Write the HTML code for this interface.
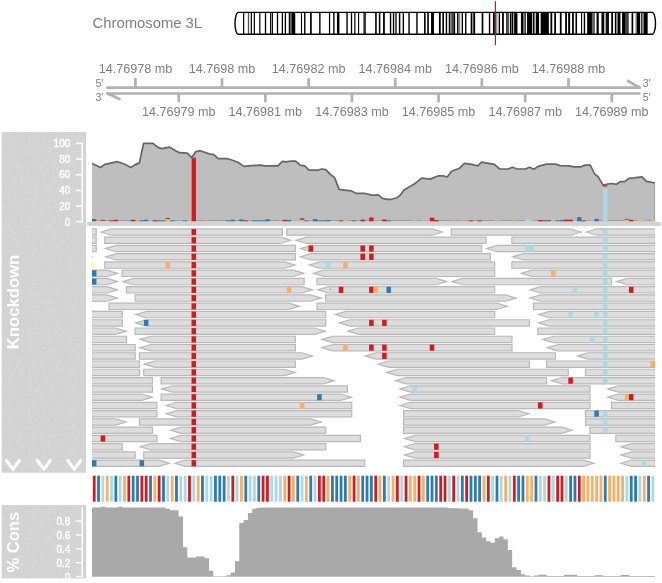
<!DOCTYPE html>
<html><head><meta charset="utf-8"><title>Gviz alignment view</title>
<style>
html,body{margin:0;padding:0;background:#fff;}
body{width:662px;height:583px;overflow:hidden;}
svg{display:block;filter:blur(0.3px);font-family:"Liberation Sans",Arial,Helvetica,sans-serif;}
</style></head>
<body>
<svg width="662" height="583" viewBox="0 0 662 583">
<rect width="662" height="583" fill="#fff"/>
<text x="92.6" y="28.3" font-size="14.6" fill="#808080" textLength="109.5" lengthAdjust="spacingAndGlyphs">Chromosome 3L</text>
<defs><clipPath id="ic"><path d="M238.3,12.4 L652.2,12.4 A3.3,10.95 0 0 1 652.2,34.3 L238.3,34.3 A3.3,10.95 0 0 1 238.3,12.4 Z"/></clipPath><clipPath id="dc"><rect x="92.03" y="0" width="563.03" height="583"/></clipPath></defs>
<path d="M238.3,12.4 L652.2,12.4 A3.3,10.95 0 0 1 652.2,34.3 L238.3,34.3 A3.3,10.95 0 0 1 238.3,12.4 Z" fill="#fff"/>
<g clip-path="url(#ic)">
<rect x="243.05" y="12.4" width="1.2" height="21.9" fill="#000"/>
<rect x="247.85" y="12.4" width="1.3" height="21.9" fill="#555"/>
<rect x="250.75" y="12.4" width="1.2" height="21.9" fill="#000"/>
<rect x="253.75" y="12.4" width="1.2" height="21.9" fill="#000"/>
<rect x="259.25" y="12.4" width="1.2" height="21.9" fill="#000"/>
<rect x="264.85" y="12.4" width="1.3" height="21.9" fill="#000"/>
<rect x="270.05" y="12.4" width="1.1" height="21.9" fill="#000"/>
<rect x="271.75" y="12.4" width="1.2" height="21.9" fill="#000"/>
<rect x="276.85" y="12.4" width="1.3" height="21.9" fill="#000"/>
<rect x="281.75" y="12.4" width="1.3" height="21.9" fill="#000"/>
<rect x="284.75" y="12.4" width="1.3" height="21.9" fill="#000"/>
<rect x="288.75" y="12.4" width="1.2" height="21.9" fill="#000"/>
<rect x="290.05" y="12.4" width="2.1" height="21.9" fill="#666"/>
<rect x="291.85" y="12.4" width="3.4" height="21.9" fill="#000"/>
<rect x="300.95" y="12.4" width="1.1" height="21.9" fill="#000"/>
<rect x="304.05" y="12.4" width="1.4" height="21.9" fill="#000"/>
<rect x="310.05" y="12.4" width="1.7" height="21.9" fill="#000"/>
<rect x="319.15" y="12.4" width="1.4" height="21.9" fill="#000"/>
<rect x="328.95" y="12.4" width="1.2" height="21.9" fill="#000"/>
<rect x="333.15" y="12.4" width="1.4" height="21.9" fill="#000"/>
<rect x="336.95" y="12.4" width="2.5" height="21.9" fill="#000"/>
<rect x="346.35" y="12.4" width="1.4" height="21.9" fill="#000"/>
<rect x="350.85" y="12.4" width="1.3" height="21.9" fill="#000"/>
<rect x="354.25" y="12.4" width="1.2" height="21.9" fill="#000"/>
<rect x="358.05" y="12.4" width="1.1" height="21.9" fill="#000"/>
<rect x="363.35" y="12.4" width="2.6" height="21.9" fill="#333"/>
<rect x="375.15" y="12.4" width="1.6" height="21.9" fill="#000"/>
<rect x="378.85" y="12.4" width="1.5" height="21.9" fill="#000"/>
<rect x="383.05" y="12.4" width="1.8" height="21.9" fill="#000"/>
<rect x="389.85" y="12.4" width="1.4" height="21.9" fill="#000"/>
<rect x="392.85" y="12.4" width="1.4" height="21.9" fill="#000"/>
<rect x="395.35" y="12.4" width="1.3" height="21.9" fill="#000"/>
<rect x="398.85" y="12.4" width="1.5" height="21.9" fill="#000"/>
<rect x="402.65" y="12.4" width="1.4" height="21.9" fill="#000"/>
<rect x="408.35" y="12.4" width="1.4" height="21.9" fill="#000"/>
<rect x="416.25" y="12.4" width="1.4" height="21.9" fill="#000"/>
<rect x="424.05" y="12.4" width="1.6" height="21.9" fill="#000"/>
<rect x="427.25" y="12.4" width="1.6" height="21.9" fill="#000"/>
<rect x="431.05" y="12.4" width="2.9" height="21.9" fill="#000"/>
<rect x="438.95" y="12.4" width="1.8" height="21.9" fill="#000"/>
<rect x="442.35" y="12.4" width="1.6" height="21.9" fill="#000"/>
<rect x="445.75" y="12.4" width="1.4" height="21.9" fill="#000"/>
<rect x="448.75" y="12.4" width="1.5" height="21.9" fill="#000"/>
<rect x="449.95" y="12.4" width="1.8" height="21.9" fill="#888"/>
<rect x="451.45" y="12.4" width="2.9" height="21.9" fill="#444"/>
<rect x="454.05" y="12.4" width="1.1" height="21.9" fill="#000"/>
<rect x="457.05" y="12.4" width="1.5" height="21.9" fill="#000"/>
<rect x="458.75" y="12.4" width="1.5" height="21.9" fill="#888"/>
<rect x="461.65" y="12.4" width="1.4" height="21.9" fill="#000"/>
<rect x="465.05" y="12.4" width="1.4" height="21.9" fill="#000"/>
<rect x="470.65" y="12.4" width="1.8" height="21.9" fill="#000"/>
<rect x="472.15" y="12.4" width="1.5" height="21.9" fill="#999"/>
<rect x="473.35" y="12.4" width="1.8" height="21.9" fill="#000"/>
<rect x="481.65" y="12.4" width="1.7" height="21.9" fill="#000"/>
<rect x="488.85" y="12.4" width="1.4" height="21.9" fill="#000"/>
<rect x="492.95" y="12.4" width="1.9" height="21.9" fill="#000"/>
<rect x="496.15" y="12.4" width="1.3" height="21.9" fill="#888"/>
<rect x="498.65" y="12.4" width="1.4" height="21.9" fill="#000"/>
<rect x="502.05" y="12.4" width="1.8" height="21.9" fill="#000"/>
<rect x="506.25" y="12.4" width="1.4" height="21.9" fill="#000"/>
<rect x="507.35" y="12.4" width="1.8" height="21.9" fill="#555"/>
<rect x="509.95" y="12.4" width="1.5" height="21.9" fill="#000"/>
<rect x="511.85" y="12.4" width="1.5" height="21.9" fill="#000"/>
<rect x="514.15" y="12.4" width="3.3" height="21.9" fill="#000"/>
<rect x="520.95" y="12.4" width="2.6" height="21.9" fill="#000"/>
<rect x="524.35" y="12.4" width="1.5" height="21.9" fill="#222"/>
<rect x="527.05" y="12.4" width="5.2" height="21.9" fill="#000"/>
<rect x="533.05" y="12.4" width="1.5" height="21.9" fill="#000"/>
<rect x="535.75" y="12.4" width="3.3" height="21.9" fill="#000"/>
<rect x="540.65" y="12.4" width="8.2" height="21.9" fill="#000"/>
<rect x="550.45" y="12.4" width="1.8" height="21.9" fill="#000"/>
<rect x="554.25" y="12.4" width="1.8" height="21.9" fill="#000"/>
<rect x="559.85" y="12.4" width="1.8" height="21.9" fill="#000"/>
<rect x="565.15" y="12.4" width="1.8" height="21.9" fill="#000"/>
<rect x="568.15" y="12.4" width="2" height="21.9" fill="#000"/>
<rect x="572.05" y="12.4" width="1.8" height="21.9" fill="#000"/>
<rect x="575.45" y="12.4" width="1.6" height="21.9" fill="#000"/>
<rect x="581.05" y="12.4" width="1.1" height="21.9" fill="#000"/>
<rect x="583.75" y="12.4" width="1.4" height="21.9" fill="#000"/>
<rect x="587.15" y="12.4" width="5" height="21.9" fill="#000"/>
<rect x="591.85" y="12.4" width="3.1" height="21.9" fill="#666"/>
<rect x="596.55" y="12.4" width="2.2" height="21.9" fill="#000"/>
<rect x="601.45" y="12.4" width="2.8" height="21.9" fill="#000"/>
<rect x="605.65" y="12.4" width="3.3" height="21.9" fill="#111"/>
<rect x="611.25" y="12.4" width="1.8" height="21.9" fill="#000"/>
<rect x="614.85" y="12.4" width="1.6" height="21.9" fill="#000"/>
<rect x="616.15" y="12.4" width="2" height="21.9" fill="#8a8a8a"/>
<rect x="617.85" y="12.4" width="2.6" height="21.9" fill="#000"/>
<rect x="622.05" y="12.4" width="3.7" height="21.9" fill="#000"/>
<rect x="625.45" y="12.4" width="3.3" height="21.9" fill="#444"/>
<rect x="631.55" y="12.4" width="1.7" height="21.9" fill="#000"/>
<rect x="635.45" y="12.4" width="1.9" height="21.9" fill="#888"/>
<rect x="636.85" y="12.4" width="3.3" height="21.9" fill="#000"/>
<rect x="640.95" y="12.4" width="1" height="21.9" fill="#000"/>
<rect x="641.65" y="12.4" width="2.5" height="21.9" fill="#888"/>
<rect x="643.85" y="12.4" width="3.8" height="21.9" fill="#000"/>
</g>
<path d="M238.3,12.4 L652.2,12.4 A3.3,10.95 0 0 1 652.2,34.3 L238.3,34.3 A3.3,10.95 0 0 1 238.3,12.4 Z" fill="none" stroke="#000" stroke-width="1.4"/>
<line x1="495.4" y1="1.3" x2="495.4" y2="45" stroke="#ff0000" stroke-width="1.2"/>
<g stroke="#b2b2b2" stroke-width="2.7" stroke-linecap="round" fill="none">
<line x1="107.5" y1="87.6" x2="639.5" y2="87.6"/>
<line x1="628" y1="81" x2="639.5" y2="87.6"/>
<line x1="107.5" y1="93.5" x2="639.5" y2="93.5"/>
<line x1="107.5" y1="93.5" x2="119.5" y2="99"/>
</g>
<g stroke="#b2b2b2" stroke-width="2.7">
<line x1="135.4" y1="78.2" x2="135.4" y2="87.6"/>
<line x1="178.71" y1="93.5" x2="178.71" y2="102.3"/>
<line x1="222.02" y1="78.2" x2="222.02" y2="87.6"/>
<line x1="265.33" y1="93.5" x2="265.33" y2="102.3"/>
<line x1="308.64" y1="78.2" x2="308.64" y2="87.6"/>
<line x1="351.95" y1="93.5" x2="351.95" y2="102.3"/>
<line x1="395.26" y1="78.2" x2="395.26" y2="87.6"/>
<line x1="438.57" y1="93.5" x2="438.57" y2="102.3"/>
<line x1="481.88" y1="78.2" x2="481.88" y2="87.6"/>
<line x1="525.19" y1="93.5" x2="525.19" y2="102.3"/>
<line x1="568.5" y1="78.2" x2="568.5" y2="87.6"/>
<line x1="611.81" y1="93.5" x2="611.81" y2="102.3"/>
</g>
<g font-size="12.6" fill="#808080" text-anchor="middle">
<text x="135.4" y="73.4">14.76978 mb</text>
<text x="178.71" y="116.1">14.76979 mb</text>
<text x="222.02" y="73.4">14.7698 mb</text>
<text x="265.33" y="116.1">14.76981 mb</text>
<text x="308.64" y="73.4">14.76982 mb</text>
<text x="351.95" y="116.1">14.76983 mb</text>
<text x="395.26" y="73.4">14.76984 mb</text>
<text x="438.57" y="116.1">14.76985 mb</text>
<text x="481.88" y="73.4">14.76986 mb</text>
<text x="525.19" y="116.1">14.76987 mb</text>
<text x="568.5" y="73.4">14.76988 mb</text>
<text x="611.81" y="116.1">14.76989 mb</text>
</g>
<g font-size="10.6" fill="#808080">
<text x="95.4" y="87.1">5'</text>
<text x="95.4" y="100.9">3'</text>
<text x="642.8" y="87.3">3'</text>
<text x="642.8" y="101.4">5'</text>
</g>
<defs><pattern id="tex" x="0" y="0" width="39" height="39" patternUnits="userSpaceOnUse"><rect width="39" height="39" fill="#d3d3d3"/><g fill="#dbdbdb"><rect x="0" y="1" width="1" height="1"/><rect x="8" y="0" width="1" height="1"/><rect x="9" y="2" width="1" height="1"/><rect x="12" y="1" width="1" height="1"/><rect x="15" y="0" width="1" height="1"/><rect x="23" y="0" width="1" height="1"/><rect x="35" y="1" width="1" height="1"/><rect x="36" y="0" width="1" height="1"/><rect x="1" y="3" width="1" height="1"/><rect x="5" y="4" width="1" height="1"/><rect x="14" y="5" width="1" height="1"/><rect x="15" y="5" width="1" height="1"/><rect x="29" y="4" width="1" height="1"/><rect x="34" y="4" width="1" height="1"/><rect x="36" y="5" width="1" height="1"/><rect x="1" y="8" width="1" height="1"/><rect x="4" y="8" width="1" height="1"/><rect x="8" y="6" width="1" height="1"/><rect x="10" y="6" width="1" height="1"/><rect x="16" y="7" width="1" height="1"/><rect x="20" y="6" width="1" height="1"/><rect x="32" y="7" width="1" height="1"/><rect x="39" y="7" width="1" height="1"/><rect x="2" y="9" width="1" height="1"/><rect x="5" y="10" width="1" height="1"/><rect x="16" y="11" width="1" height="1"/><rect x="19" y="10" width="1" height="1"/><rect x="21" y="10" width="1" height="1"/><rect x="25" y="9" width="1" height="1"/><rect x="31" y="9" width="1" height="1"/><rect x="34" y="11" width="1" height="1"/><rect x="36" y="10" width="1" height="1"/><rect x="1" y="13" width="1" height="1"/><rect x="6" y="12" width="1" height="1"/><rect x="9" y="12" width="1" height="1"/><rect x="17" y="12" width="1" height="1"/><rect x="18" y="12" width="1" height="1"/><rect x="22" y="14" width="1" height="1"/><rect x="35" y="14" width="1" height="1"/><rect x="41" y="14" width="1" height="1"/><rect x="1" y="16" width="1" height="1"/><rect x="5" y="16" width="1" height="1"/><rect x="6" y="15" width="1" height="1"/><rect x="9" y="16" width="1" height="1"/><rect x="17" y="15" width="1" height="1"/><rect x="19" y="17" width="1" height="1"/><rect x="21" y="17" width="1" height="1"/><rect x="26" y="16" width="1" height="1"/><rect x="33" y="16" width="1" height="1"/><rect x="40" y="16" width="1" height="1"/><rect x="0" y="20" width="1" height="1"/><rect x="4" y="19" width="1" height="1"/><rect x="9" y="18" width="1" height="1"/><rect x="15" y="20" width="1" height="1"/><rect x="18" y="20" width="1" height="1"/><rect x="23" y="18" width="1" height="1"/><rect x="28" y="18" width="1" height="1"/><rect x="30" y="20" width="1" height="1"/><rect x="35" y="19" width="1" height="1"/><rect x="6" y="22" width="1" height="1"/><rect x="14" y="22" width="1" height="1"/><rect x="15" y="21" width="1" height="1"/><rect x="21" y="23" width="1" height="1"/><rect x="29" y="22" width="1" height="1"/><rect x="33" y="21" width="1" height="1"/><rect x="36" y="22" width="1" height="1"/><rect x="41" y="23" width="1" height="1"/><rect x="5" y="25" width="1" height="1"/><rect x="11" y="24" width="1" height="1"/><rect x="21" y="25" width="1" height="1"/><rect x="29" y="25" width="1" height="1"/><rect x="32" y="24" width="1" height="1"/><rect x="36" y="24" width="1" height="1"/><rect x="40" y="26" width="1" height="1"/><rect x="2" y="28" width="1" height="1"/><rect x="8" y="29" width="1" height="1"/><rect x="9" y="29" width="1" height="1"/><rect x="15" y="28" width="1" height="1"/><rect x="21" y="27" width="1" height="1"/><rect x="25" y="29" width="1" height="1"/><rect x="29" y="28" width="1" height="1"/><rect x="31" y="27" width="1" height="1"/><rect x="35" y="28" width="1" height="1"/><rect x="5" y="30" width="1" height="1"/><rect x="8" y="32" width="1" height="1"/><rect x="10" y="30" width="1" height="1"/><rect x="18" y="31" width="1" height="1"/><rect x="24" y="31" width="1" height="1"/><rect x="31" y="30" width="1" height="1"/><rect x="36" y="31" width="1" height="1"/><rect x="39" y="32" width="1" height="1"/><rect x="0" y="33" width="1" height="1"/><rect x="5" y="35" width="1" height="1"/><rect x="10" y="34" width="1" height="1"/><rect x="13" y="35" width="1" height="1"/><rect x="29" y="33" width="1" height="1"/><rect x="33" y="34" width="1" height="1"/><rect x="36" y="35" width="1" height="1"/><rect x="39" y="33" width="1" height="1"/><rect x="11" y="38" width="1" height="1"/><rect x="15" y="37" width="1" height="1"/><rect x="18" y="37" width="1" height="1"/><rect x="26" y="36" width="1" height="1"/><rect x="28" y="38" width="1" height="1"/><rect x="31" y="36" width="1" height="1"/><rect x="33" y="38" width="1" height="1"/><rect x="37" y="38" width="1" height="1"/><rect x="41" y="36" width="1" height="1"/><rect x="2" y="41" width="1" height="1"/><rect x="3" y="39" width="1" height="1"/><rect x="16" y="40" width="1" height="1"/><rect x="18" y="40" width="1" height="1"/><rect x="38" y="41" width="1" height="1"/></g></pattern></defs>
<rect x="1.7" y="132" width="84.3" height="340.7" fill="url(#tex)"/>
<rect x="1.7" y="505" width="84.3" height="73.6" fill="url(#tex)"/>
<g stroke="#fff" stroke-width="1.6" fill="none">
<line x1="82.3" y1="142.6" x2="82.3" y2="222.5"/>
<line x1="76" y1="221.7" x2="82.3" y2="221.7"/>
<line x1="76" y1="206.04" x2="82.3" y2="206.04"/>
<line x1="76" y1="190.38" x2="82.3" y2="190.38"/>
<line x1="76" y1="174.72" x2="82.3" y2="174.72"/>
<line x1="76" y1="159.06" x2="82.3" y2="159.06"/>
<line x1="76" y1="143.4" x2="82.3" y2="143.4"/>
</g>
<g font-size="10" fill="#fff" stroke="#fff" stroke-width="0.45" text-anchor="end">
<text x="70.3" y="226.4">0</text>
<text x="70.3" y="209.64">20</text>
<text x="70.3" y="193.98">40</text>
<text x="70.3" y="178.32">60</text>
<text x="70.3" y="162.66">80</text>
<text x="70.3" y="147">100</text>
</g>
<g stroke="#fff" stroke-width="1.4" fill="none">
<line x1="82.2" y1="507.1" x2="82.2" y2="577.2"/>
<line x1="76" y1="576.5" x2="82.2" y2="576.5"/>
<line x1="76" y1="562.65" x2="82.2" y2="562.65"/>
<line x1="76" y1="548.8" x2="82.2" y2="548.8"/>
<line x1="76" y1="534.95" x2="82.2" y2="534.95"/>
<line x1="76" y1="521.1" x2="82.2" y2="521.1"/>
</g>
<g font-size="10" fill="#fff" stroke="#fff" stroke-width="0.45" text-anchor="end">
<text x="70.4" y="580.6">0</text>
<text x="70.4" y="566.75">0.2</text>
<text x="70.4" y="552.9">0.4</text>
<text x="70.4" y="539.05">0.6</text>
<text x="70.4" y="525.2">0.8</text>
</g>
<rect x="0" y="578.6" width="90" height="5" fill="#fff"/>
<text transform="translate(19.4,302) rotate(-90)" font-size="16.7" font-weight="bold" fill="#fff" text-anchor="middle">Knockdown</text>
<text transform="translate(18.7,542.2) rotate(-90)" font-size="16.5" font-weight="bold" fill="#fff" text-anchor="middle">% Cons</text>
<g stroke="#fff" stroke-width="3.1" fill="none" stroke-linejoin="round" stroke-linecap="round">
<polyline points="6.4,460.5 12.9,469.4 19.4,460.5"/>
<polyline points="37.35,460.5 43.85,469.4 50.35,460.5"/>
<polyline points="67.7,460.5 74.2,469.4 80.7,460.5"/>
</g>
<g clip-path="url(#dc)">
<clipPath id="cc"><rect x="92.03" y="100" width="563.03" height="121.3"/></clipPath>
<path d="M89.03,163.4 L92.1,163.4 L100.4,167.5 L104.9,164.4 L117.5,161.7 L124.3,164 L131,167.5 L134.8,164.9 L139.4,162.9 L143.6,143.3 L153,143.3 L157.5,147.1 L161.6,148.6 L169.6,147.1 L175.6,150.8 L179.4,152.7 L187.3,153.1 L191.8,157.6 L195.9,151.6 L200.1,150.8 L209.2,153.9 L213.7,154.6 L218.2,158.7 L226.5,158.7 L230.3,159.5 L237.9,162.2 L243.9,166.4 L251.5,165.6 L260.5,165.2 L265.1,165.9 L277.9,165.9 L282.4,161.4 L286.5,161.9 L291.1,161 L295.6,161.1 L300.1,165.2 L304.7,165.9 L308.9,170.2 L317.5,170.2 L321.6,169 L325.8,169.7 L330.3,174.3 L334.6,177.6 L339.1,189.4 L347,190.3 L351.5,190.9 L356,193.3 L364.3,193.3 L372.6,195.4 L377.9,194.6 L382.5,198.4 L387.1,199.3 L391.6,199.3 L396.9,197.7 L399.9,195.4 L404,190.1 L414.3,184.1 L421.5,178.2 L430.1,179.1 L438.4,175.8 L443,175.8 L447.2,177 L451.7,171.2 L459.6,168.2 L464.4,163.4 L471.7,164.4 L477.8,165.9 L481.6,162.2 L494.4,164.4 L499.7,169 L508,169 L512.5,167.2 L517,169 L525.4,169 L529.6,167.2 L533.7,169.3 L538.2,166.4 L546.5,164.1 L555.6,164.1 L560.1,165.6 L568.9,165.8 L574,166.8 L580.9,166.8 L585.2,165.1 L590.3,165.1 L594.6,174 L598,176.6 L603.2,185.2 L607.5,184 L611.7,183.5 L616.5,184.3 L620.3,181.7 L624.6,181.7 L628.9,178.3 L634,177.8 L641.9,176.8 L646.6,181.4 L654.6,183 L658.06,183 L658.06,224.3 L89.03,224.3 Z" fill="#bebebe" stroke="#666" stroke-width="1.7" stroke-linejoin="round" clip-path="url(#cc)"/>
<line x1="92.03" y1="220.8" x2="655.06" y2="220.8" stroke="#8f8f8f" stroke-width="1"/>
<line x1="654.61" y1="183" x2="654.61" y2="221.3" stroke="#9a9a9a" stroke-width="0.9"/>
<rect x="92.03" y="219" width="4.33" height="2.3" fill="#2c7bb6"/>
<rect x="96.36" y="220.5" width="4.33" height="0.8" fill="#fdae61"/>
<rect x="100.69" y="220.7" width="4.33" height="0.6" fill="#fdae61"/>
<rect x="100.69" y="219.8" width="4.33" height="0.9" fill="#d7191c"/>
<rect x="109.35" y="220.5" width="4.33" height="0.8" fill="#d7191c"/>
<rect x="113.69" y="219.8" width="4.33" height="1.5" fill="#d7191c"/>
<rect x="131.01" y="219.8" width="4.33" height="1.5" fill="#d7191c"/>
<rect x="135.34" y="220.4" width="4.33" height="0.9" fill="#fdae61"/>
<rect x="139.67" y="220.4" width="4.33" height="0.9" fill="#2c7bb6"/>
<rect x="144" y="219.7" width="4.33" height="1.6" fill="#2c7bb6"/>
<rect x="148.33" y="220.5" width="4.33" height="0.8" fill="#abd9e9"/>
<rect x="152.66" y="220.3" width="4.33" height="1" fill="#d7191c"/>
<rect x="157" y="220.5" width="4.33" height="0.8" fill="#2c7bb6"/>
<rect x="161.33" y="220.5" width="4.33" height="0.8" fill="#2c7bb6"/>
<rect x="165.66" y="219" width="4.33" height="2.3" fill="#fdae61"/>
<rect x="165.66" y="218" width="4.33" height="1" fill="#d7191c"/>
<rect x="169.99" y="220.5" width="4.33" height="0.8" fill="#2c7bb6"/>
<rect x="182.98" y="220.5" width="4.33" height="0.8" fill="#2c7bb6"/>
<rect x="187.31" y="220.5" width="4.33" height="0.8" fill="#abd9e9"/>
<rect x="204.64" y="220.5" width="4.33" height="0.8" fill="#fdae61"/>
<rect x="226.29" y="220.5" width="4.33" height="0.8" fill="#2c7bb6"/>
<rect x="230.62" y="219.7" width="4.33" height="1.6" fill="#2c7bb6"/>
<rect x="239.28" y="219.3" width="4.33" height="2" fill="#2c7bb6"/>
<rect x="243.62" y="220.5" width="4.33" height="0.8" fill="#d7191c"/>
<rect x="252.28" y="220.5" width="4.33" height="0.8" fill="#2c7bb6"/>
<rect x="256.61" y="220.5" width="4.33" height="0.8" fill="#2c7bb6"/>
<rect x="260.94" y="220.5" width="4.33" height="0.8" fill="#2c7bb6"/>
<rect x="265.27" y="219.3" width="4.33" height="2" fill="#2c7bb6"/>
<rect x="278.26" y="220.5" width="4.33" height="0.8" fill="#fdae61"/>
<rect x="282.59" y="219.9" width="4.33" height="1.4" fill="#d7191c"/>
<rect x="286.93" y="219.9" width="4.33" height="1.4" fill="#2c7bb6"/>
<rect x="291.26" y="220.5" width="4.33" height="0.8" fill="#abd9e9"/>
<rect x="295.59" y="220.5" width="4.33" height="0.8" fill="#abd9e9"/>
<rect x="299.92" y="220" width="4.33" height="1.3" fill="#fdae61"/>
<rect x="299.92" y="219.2" width="4.33" height="0.8" fill="#d7191c"/>
<rect x="299.92" y="218.2" width="4.33" height="1" fill="#2c7bb6"/>
<rect x="304.25" y="220.5" width="4.33" height="0.8" fill="#2c7bb6"/>
<rect x="308.58" y="220.5" width="4.33" height="0.8" fill="#fdae61"/>
<rect x="312.91" y="219" width="4.33" height="2.3" fill="#2c7bb6"/>
<rect x="317.24" y="220.5" width="4.33" height="0.8" fill="#2c7bb6"/>
<rect x="321.57" y="220.5" width="4.33" height="0.8" fill="#2c7bb6"/>
<rect x="325.9" y="220" width="4.33" height="1.3" fill="#2c7bb6"/>
<rect x="338.9" y="220.5" width="4.33" height="0.8" fill="#d7191c"/>
<rect x="343.23" y="219.9" width="4.33" height="1.4" fill="#fdae61"/>
<rect x="351.89" y="220.5" width="4.33" height="0.8" fill="#2c7bb6"/>
<rect x="360.55" y="219.7" width="4.33" height="1.6" fill="#d7191c"/>
<rect x="369.21" y="217.5" width="4.33" height="3.8" fill="#d7191c"/>
<rect x="373.55" y="220.5" width="4.33" height="0.8" fill="#fdae61"/>
<rect x="382.21" y="219.5" width="4.33" height="1.8" fill="#d7191c"/>
<rect x="386.54" y="220.5" width="4.33" height="0.8" fill="#2c7bb6"/>
<rect x="412.52" y="220.5" width="4.33" height="0.8" fill="#abd9e9"/>
<rect x="421.19" y="220.5" width="4.33" height="0.8" fill="#abd9e9"/>
<rect x="425.52" y="220.5" width="4.33" height="0.8" fill="#fdae61"/>
<rect x="429.85" y="217.7" width="4.33" height="3.6" fill="#d7191c"/>
<rect x="434.18" y="220" width="4.33" height="1.3" fill="#d7191c"/>
<rect x="451.5" y="220.5" width="4.33" height="0.8" fill="#fdae61"/>
<rect x="460.17" y="220.5" width="4.33" height="0.8" fill="#fdae61"/>
<rect x="464.5" y="220.5" width="4.33" height="0.8" fill="#fdae61"/>
<rect x="468.83" y="220.5" width="4.33" height="0.8" fill="#d7191c"/>
<rect x="477.49" y="220.5" width="4.33" height="0.8" fill="#d7191c"/>
<rect x="494.81" y="219.8" width="4.33" height="1.5" fill="#fdae61"/>
<rect x="512.14" y="220.5" width="4.33" height="0.8" fill="#fdae61"/>
<rect x="525.13" y="219.3" width="4.33" height="2" fill="#abd9e9"/>
<rect x="529.46" y="220.5" width="4.33" height="0.8" fill="#abd9e9"/>
<rect x="538.12" y="220" width="4.33" height="1.3" fill="#d7191c"/>
<rect x="542.45" y="220.5" width="4.33" height="0.8" fill="#d7191c"/>
<rect x="546.79" y="220" width="4.33" height="1.3" fill="#2c7bb6"/>
<rect x="551.12" y="220" width="4.33" height="1.3" fill="#fdae61"/>
<rect x="555.45" y="220.5" width="4.33" height="0.8" fill="#2c7bb6"/>
<rect x="559.78" y="219.8" width="4.33" height="1.5" fill="#2c7bb6"/>
<rect x="564.11" y="219.6" width="4.33" height="1.7" fill="#d7191c"/>
<rect x="568.44" y="219.6" width="4.33" height="1.7" fill="#d7191c"/>
<rect x="572.77" y="220.5" width="4.33" height="0.8" fill="#abd9e9"/>
<rect x="577.1" y="217.1" width="4.33" height="4.2" fill="#2c7bb6"/>
<rect x="581.43" y="220.5" width="4.33" height="0.8" fill="#d7191c"/>
<rect x="590.1" y="220.5" width="4.33" height="0.8" fill="#abd9e9"/>
<rect x="594.43" y="218.9" width="4.33" height="2.4" fill="#2c7bb6"/>
<rect x="624.74" y="219.8" width="4.33" height="1.5" fill="#fdae61"/>
<rect x="624.74" y="218.8" width="4.33" height="1" fill="#2c7bb6"/>
<rect x="629.07" y="219.8" width="4.33" height="1.5" fill="#d7191c"/>
<rect x="637.74" y="219.8" width="4.33" height="1.5" fill="#fdae61"/>
<rect x="642.07" y="220.5" width="4.33" height="0.8" fill="#abd9e9"/>
<rect x="650.73" y="219.8" width="4.33" height="1.5" fill="#fdae61"/>
<rect x="191.64" y="158.2" width="4.33" height="63.1" fill="#d7191c"/>
<rect x="191.64" y="157.3" width="4.33" height="1" fill="#2c7bb6"/>
<rect x="603.09" y="188.8" width="4.33" height="32.5" fill="#abd9e9"/>
<rect x="603.09" y="186.5" width="4.33" height="2.3" fill="#fdae61"/>
<rect x="603.09" y="185.3" width="4.33" height="1.2" fill="#d7191c"/>
</g>
<rect x="87.2" y="222" width="573.7" height="3.9" fill="#d3d3d3"/>
<g clip-path="url(#dc)">
<g fill="#dddddd" stroke="#b9b9b9" stroke-width="1.2" stroke-linejoin="miter">
<polygon points="90.03,228.9 96.21,228.9 96.21,235.2 90.03,235.2"/>
<polygon points="101.19,232.05 111.69,228.9 282.44,228.9 282.44,235.2 111.69,235.2"/>
<polygon points="286.68,228.9 431.84,228.9 442.34,232.05 431.84,235.2 286.68,235.2"/>
<polygon points="451.25,228.9 570.43,228.9 580.93,232.05 570.43,235.2 451.25,235.2"/>
<polygon points="586.26,232.05 596.76,228.9 657.06,228.9 657.06,235.2 596.76,235.2"/>
<polygon points="90.03,237.16 96.21,237.16 96.21,243.46 90.03,243.46"/>
<polygon points="104.77,237.16 280.26,237.16 290.76,240.31 280.26,243.46 104.77,243.46"/>
<polygon points="296.09,240.31 306.59,237.16 486,237.16 486,243.46 306.59,243.46"/>
<polygon points="511.89,237.16 657.06,237.16 657.06,243.46 511.89,243.46"/>
<polygon points="90.03,245.41 96.21,245.41 96.21,251.71 90.03,251.71"/>
<polygon points="105.52,248.56 116.02,245.41 295.44,245.41 295.44,251.71 116.02,251.71"/>
<polygon points="300.42,248.56 310.92,245.41 481.67,245.41 481.67,251.71 310.92,251.71"/>
<polygon points="486.65,248.56 497.15,245.41 657.06,245.41 657.06,251.71 497.15,251.71"/>
<polygon points="105.52,256.82 116.02,253.67 295.44,253.67 295.44,259.97 116.02,259.97"/>
<polygon points="300.42,256.82 310.92,253.67 490.33,253.67 490.33,259.97 310.92,259.97"/>
<polygon points="512.64,256.82 523.14,253.67 657.06,253.67 657.06,259.97 523.14,259.97"/>
<polygon points="104.77,261.93 284.59,261.93 295.09,265.08 284.59,268.23 104.77,268.23"/>
<polygon points="309.08,265.08 319.58,261.93 494.66,261.93 494.66,268.23 319.58,268.23"/>
<polygon points="511.89,261.93 657.06,261.93 657.06,268.23 511.89,268.23"/>
<polygon points="90.03,270.19 107.02,270.19 117.52,273.34 107.02,276.49 90.03,276.49"/>
<polygon points="122.1,270.19 293.25,270.19 303.75,273.34 293.25,276.49 122.1,276.49"/>
<polygon points="313.41,273.34 323.91,270.19 494.66,270.19 494.66,276.49 323.91,276.49"/>
<polygon points="521.3,273.34 531.8,270.19 657.06,270.19 657.06,276.49 531.8,276.49"/>
<polygon points="90.03,278.44 107.02,278.44 117.52,281.59 107.02,284.74 90.03,284.74"/>
<polygon points="122.85,281.59 133.35,278.44 304.1,278.44 304.1,284.74 133.35,284.74"/>
<polygon points="316.99,278.44 436.17,278.44 446.67,281.59 436.17,284.74 316.99,284.74"/>
<polygon points="452,281.59 462.5,278.44 611.6,278.44 611.6,284.74 462.5,284.74"/>
<polygon points="616.58,281.59 627.08,278.44 657.06,278.44 657.06,284.74 627.08,284.74"/>
<polygon points="90.03,286.7 107.02,286.7 117.52,289.85 107.02,293 90.03,293"/>
<polygon points="126.43,286.7 301.91,286.7 312.41,289.85 301.91,293 126.43,293"/>
<polygon points="317.74,289.85 328.24,286.7 494.66,286.7 494.66,293 328.24,293"/>
<polygon points="529.96,289.85 540.46,286.7 657.06,286.7 657.06,293 540.46,293"/>
<polygon points="90.03,294.96 107.02,294.96 117.52,298.11 107.02,301.26 90.03,301.26"/>
<polygon points="135.09,294.96 310.57,294.96 321.07,298.11 310.57,301.26 135.09,301.26"/>
<polygon points="325.65,294.96 505.47,294.96 515.97,298.11 505.47,301.26 325.65,301.26"/>
<polygon points="529.96,298.11 540.46,294.96 657.06,294.96 657.06,301.26 540.46,301.26"/>
<polygon points="109.1,303.21 288.92,303.21 299.42,306.36 288.92,309.51 109.1,309.51"/>
<polygon points="316.99,303.21 496.81,303.21 507.31,306.36 496.81,309.51 316.99,309.51"/>
<polygon points="533.54,303.21 657.06,303.21 657.06,309.51 533.54,309.51"/>
<polygon points="90.03,311.47 122.2,311.47 122.2,317.77 90.03,317.77"/>
<polygon points="135.84,314.62 146.34,311.47 325.75,311.47 325.75,317.77 146.34,317.77"/>
<polygon points="335.07,314.62 345.57,311.47 494.66,311.47 494.66,317.77 345.57,317.77"/>
<polygon points="538.62,314.62 549.12,311.47 657.06,311.47 657.06,317.77 549.12,317.77"/>
<polygon points="90.03,319.73 122.2,319.73 122.2,326.03 90.03,326.03"/>
<polygon points="135.84,322.88 146.34,319.73 325.75,319.73 325.75,326.03 146.34,326.03"/>
<polygon points="339.4,322.88 349.9,319.73 529.31,319.73 529.31,326.03 349.9,326.03"/>
<polygon points="538.62,322.88 549.12,319.73 657.06,319.73 657.06,326.03 549.12,326.03"/>
<polygon points="90.03,327.98 115.68,327.98 126.18,331.13 115.68,334.28 90.03,334.28"/>
<polygon points="135.09,327.98 314.9,327.98 325.4,331.13 314.9,334.28 135.09,334.28"/>
<polygon points="348.06,331.13 358.56,327.98 494.66,327.98 494.66,334.28 358.56,334.28"/>
<polygon points="537.87,327.98 657.06,327.98 657.06,334.28 537.87,334.28"/>
<polygon points="90.03,336.24 126.53,336.24 126.53,342.54 90.03,342.54"/>
<polygon points="140.17,339.39 150.67,336.24 295.44,336.24 295.44,342.54 150.67,342.54"/>
<polygon points="322.07,339.39 332.57,336.24 511.99,336.24 511.99,342.54 332.57,342.54"/>
<polygon points="542.95,339.39 553.45,336.24 657.06,336.24 657.06,342.54 553.45,342.54"/>
<polygon points="90.03,344.5 135.19,344.5 135.19,350.8 90.03,350.8"/>
<polygon points="140.17,347.65 150.67,344.5 295.44,344.5 295.44,350.8 150.67,350.8"/>
<polygon points="322.07,347.65 332.57,344.5 511.99,344.5 511.99,350.8 332.57,350.8"/>
<polygon points="547.29,347.65 557.79,344.5 657.06,344.5 657.06,350.8 557.79,350.8"/>
<polygon points="90.03,352.75 135.19,352.75 135.19,359.06 90.03,359.06"/>
<polygon points="139.42,352.75 301.91,352.75 312.41,355.9 301.91,359.06 139.42,359.06"/>
<polygon points="365.38,355.9 375.88,352.75 555.3,352.75 555.3,359.06 375.88,359.06"/>
<polygon points="577.6,355.9 588.1,352.75 657.06,352.75 657.06,359.06 588.1,359.06"/>
<polygon points="90.03,361.01 139.52,361.01 139.52,367.31 90.03,367.31"/>
<polygon points="144.5,364.16 155,361.01 295.44,361.01 295.44,367.31 155,367.31"/>
<polygon points="378.38,364.16 388.88,361.01 529.31,361.01 529.31,367.31 388.88,367.31"/>
<polygon points="546.54,361.01 657.06,361.01 657.06,367.31 546.54,367.31"/>
<polygon points="90.03,369.27 139.52,369.27 139.52,375.57 90.03,375.57"/>
<polygon points="143.75,369.27 284.59,369.27 295.09,372.42 284.59,375.57 143.75,375.57"/>
<polygon points="387.04,372.42 397.54,369.27 568.29,369.27 568.29,375.57 397.54,375.57"/>
<polygon points="585.51,369.27 657.06,369.27 657.06,375.57 585.51,375.57"/>
<polygon points="90.03,377.53 152.51,377.53 152.51,383.83 90.03,383.83"/>
<polygon points="161.08,377.53 323.57,377.53 334.07,380.68 323.57,383.83 161.08,383.83"/>
<polygon points="395.7,380.68 406.2,377.53 546.64,377.53 546.64,383.83 406.2,383.83"/>
<polygon points="551.62,380.68 562.12,377.53 657.06,377.53 657.06,383.83 562.12,383.83"/>
<polygon points="90.03,385.78 152.51,385.78 152.51,392.08 90.03,392.08"/>
<polygon points="161.83,388.93 172.33,385.78 347.41,385.78 347.41,392.08 172.33,392.08"/>
<polygon points="400.03,388.93 410.53,385.78 589.95,385.78 589.95,392.08 410.53,392.08"/>
<polygon points="607.92,388.93 618.42,385.78 657.06,385.78 657.06,392.08 618.42,392.08"/>
<polygon points="90.03,394.04 141.66,394.04 152.16,397.19 141.66,400.34 90.03,400.34"/>
<polygon points="161.08,394.04 340.89,394.04 351.39,397.19 340.89,400.34 161.08,400.34"/>
<polygon points="400.03,397.19 410.53,394.04 589.95,394.04 589.95,400.34 410.53,400.34"/>
<polygon points="607.92,397.19 618.42,394.04 657.06,394.04 657.06,400.34 618.42,400.34"/>
<polygon points="90.03,402.3 156.84,402.3 156.84,408.6 90.03,408.6"/>
<polygon points="166.16,405.45 176.66,402.3 351.74,402.3 351.74,408.6 176.66,408.6"/>
<polygon points="400.03,405.45 410.53,402.3 589.95,402.3 589.95,408.6 410.53,408.6"/>
<polygon points="611.5,402.3 657.06,402.3 657.06,408.6 611.5,408.6"/>
<polygon points="90.03,410.55 156.84,410.55 156.84,416.85 90.03,416.85"/>
<polygon points="166.16,413.7 176.66,410.55 351.74,410.55 351.74,416.85 176.66,416.85"/>
<polygon points="403.61,410.55 518.46,410.55 528.96,413.7 518.46,416.85 403.61,416.85"/>
<polygon points="585.51,410.55 657.06,410.55 657.06,416.85 585.51,416.85"/>
<polygon points="90.03,418.81 115.68,418.81 126.18,421.96 115.68,425.11 90.03,425.11"/>
<polygon points="139.42,418.81 310.57,418.81 321.07,421.96 310.57,425.11 139.42,425.11"/>
<polygon points="403.61,418.81 544.45,418.81 554.95,421.96 544.45,425.11 403.61,425.11"/>
<polygon points="585.51,418.81 657.06,418.81 657.06,425.11 585.51,425.11"/>
<polygon points="90.03,427.07 152.51,427.07 152.51,433.37 90.03,433.37"/>
<polygon points="170.49,430.22 180.99,427.07 325.75,427.07 325.75,433.37 180.99,433.37"/>
<polygon points="403.61,427.07 561.77,427.07 572.27,430.22 561.77,433.37 403.61,433.37"/>
<polygon points="589.85,427.07 657.06,427.07 657.06,433.37 589.85,433.37"/>
<polygon points="90.03,435.32 156.84,435.32 156.84,441.62 90.03,441.62"/>
<polygon points="170.49,438.48 180.99,435.32 360.4,435.32 360.4,441.62 180.99,441.62"/>
<polygon points="404.36,438.48 414.86,435.32 589.95,435.32 589.95,441.62 414.86,441.62"/>
<polygon points="615.83,435.32 657.06,435.32 657.06,441.62 615.83,441.62"/>
<polygon points="90.03,443.58 122.2,443.58 122.2,449.88 90.03,449.88"/>
<polygon points="140.17,446.73 150.67,443.58 325.75,443.58 325.75,449.88 150.67,449.88"/>
<polygon points="404.36,446.73 414.86,443.58 589.95,443.58 589.95,449.88 414.86,449.88"/>
<polygon points="620.91,446.73 631.41,443.58 657.06,443.58 657.06,449.88 631.41,449.88"/>
<polygon points="90.03,451.84 135.19,451.84 135.19,458.14 90.03,458.14"/>
<polygon points="143.75,451.84 293.25,451.84 303.75,454.99 293.25,458.14 143.75,458.14"/>
<polygon points="404.36,454.99 414.86,451.84 589.95,451.84 589.95,458.14 414.86,458.14"/>
<polygon points="620.91,454.99 631.41,451.84 657.06,451.84 657.06,458.14 631.41,458.14"/>
<polygon points="90.03,460.1 158.99,460.1 169.49,463.25 158.99,466.4 90.03,466.4"/>
<polygon points="174.82,463.25 185.32,460.1 364.73,460.1 364.73,466.4 185.32,466.4"/>
<polygon points="403.61,460.1 583.43,460.1 593.93,463.25 583.43,466.4 403.61,466.4"/>
<polygon points="620.91,463.25 631.41,460.1 657.06,460.1 657.06,466.4 631.41,466.4"/>
</g>
<rect x="191.54" y="229" width="4.53" height="6.1" fill="#d7191c"/>
<rect x="602.99" y="229" width="4.53" height="6.1" fill="#abd9e9"/>
<rect x="191.54" y="237.26" width="4.53" height="6.1" fill="#d7191c"/>
<rect x="602.99" y="237.26" width="4.53" height="6.1" fill="#abd9e9"/>
<rect x="191.54" y="245.51" width="4.53" height="6.1" fill="#d7191c"/>
<rect x="308.48" y="245.51" width="4.53" height="6.1" fill="#d7191c"/>
<rect x="360.45" y="245.51" width="4.53" height="6.1" fill="#d7191c"/>
<rect x="369.11" y="245.51" width="4.53" height="6.1" fill="#d7191c"/>
<rect x="525.03" y="245.51" width="4.53" height="6.1" fill="#abd9e9"/>
<rect x="529.36" y="245.51" width="4.53" height="6.1" fill="#abd9e9"/>
<rect x="602.99" y="245.51" width="4.53" height="6.1" fill="#abd9e9"/>
<rect x="191.54" y="253.77" width="4.53" height="6.1" fill="#d7191c"/>
<rect x="360.45" y="253.77" width="4.53" height="6.1" fill="#d7191c"/>
<rect x="369.11" y="253.77" width="4.53" height="6.1" fill="#d7191c"/>
<rect x="602.99" y="253.77" width="4.53" height="6.1" fill="#abd9e9"/>
<rect x="91.93" y="261.38" width="4.53" height="7.4" fill="#ffffbf"/>
<rect x="165.56" y="262.03" width="4.53" height="6.1" fill="#fdae61"/>
<rect x="191.54" y="262.03" width="4.53" height="6.1" fill="#d7191c"/>
<rect x="325.8" y="262.03" width="4.53" height="6.1" fill="#abd9e9"/>
<rect x="343.13" y="262.03" width="4.53" height="6.1" fill="#fdae61"/>
<rect x="602.99" y="262.03" width="4.53" height="6.1" fill="#abd9e9"/>
<rect x="91.93" y="270.29" width="4.53" height="6.1" fill="#2c7bb6"/>
<rect x="191.54" y="270.29" width="4.53" height="6.1" fill="#d7191c"/>
<rect x="551.02" y="270.29" width="4.53" height="6.1" fill="#fdae61"/>
<rect x="602.99" y="270.29" width="4.53" height="6.1" fill="#abd9e9"/>
<rect x="91.93" y="278.54" width="4.53" height="6.1" fill="#2c7bb6"/>
<rect x="191.54" y="278.54" width="4.53" height="6.1" fill="#d7191c"/>
<rect x="602.99" y="278.54" width="4.53" height="6.1" fill="#abd9e9"/>
<rect x="191.54" y="286.8" width="4.53" height="6.1" fill="#d7191c"/>
<rect x="286.82" y="286.8" width="4.53" height="6.1" fill="#fdae61"/>
<rect x="338.8" y="286.8" width="4.53" height="6.1" fill="#d7191c"/>
<rect x="369.11" y="286.8" width="4.53" height="6.1" fill="#d7191c"/>
<rect x="373.45" y="286.8" width="4.53" height="6.1" fill="#fdae61"/>
<rect x="386.44" y="286.8" width="4.53" height="6.1" fill="#2c7bb6"/>
<rect x="572.67" y="286.8" width="4.53" height="6.1" fill="#abd9e9"/>
<rect x="602.99" y="286.8" width="4.53" height="6.1" fill="#abd9e9"/>
<rect x="628.97" y="286.8" width="4.53" height="6.1" fill="#d7191c"/>
<rect x="191.54" y="295.06" width="4.53" height="6.1" fill="#d7191c"/>
<rect x="602.99" y="295.06" width="4.53" height="6.1" fill="#abd9e9"/>
<rect x="191.54" y="303.31" width="4.53" height="6.1" fill="#d7191c"/>
<rect x="602.99" y="303.31" width="4.53" height="6.1" fill="#abd9e9"/>
<rect x="191.54" y="311.57" width="4.53" height="6.1" fill="#d7191c"/>
<rect x="568.34" y="311.57" width="4.53" height="6.1" fill="#abd9e9"/>
<rect x="594.33" y="311.57" width="4.53" height="6.1" fill="#abd9e9"/>
<rect x="602.99" y="311.57" width="4.53" height="6.1" fill="#abd9e9"/>
<rect x="143.9" y="319.83" width="4.53" height="6.1" fill="#2c7bb6"/>
<rect x="191.54" y="319.83" width="4.53" height="6.1" fill="#d7191c"/>
<rect x="369.11" y="319.83" width="4.53" height="6.1" fill="#d7191c"/>
<rect x="382.11" y="319.83" width="4.53" height="6.1" fill="#d7191c"/>
<rect x="602.99" y="319.83" width="4.53" height="6.1" fill="#abd9e9"/>
<rect x="191.54" y="328.08" width="4.53" height="6.1" fill="#d7191c"/>
<rect x="602.99" y="328.08" width="4.53" height="6.1" fill="#abd9e9"/>
<rect x="191.54" y="336.34" width="4.53" height="6.1" fill="#d7191c"/>
<rect x="590" y="336.34" width="4.53" height="6.1" fill="#abd9e9"/>
<rect x="602.99" y="336.34" width="4.53" height="6.1" fill="#abd9e9"/>
<rect x="191.54" y="344.6" width="4.53" height="6.1" fill="#d7191c"/>
<rect x="343.13" y="344.6" width="4.53" height="6.1" fill="#fdae61"/>
<rect x="369.11" y="344.6" width="4.53" height="6.1" fill="#d7191c"/>
<rect x="382.11" y="344.6" width="4.53" height="6.1" fill="#d7191c"/>
<rect x="429.75" y="344.6" width="4.53" height="6.1" fill="#d7191c"/>
<rect x="602.99" y="344.6" width="4.53" height="6.1" fill="#abd9e9"/>
<rect x="191.54" y="352.86" width="4.53" height="6.1" fill="#d7191c"/>
<rect x="382.11" y="352.86" width="4.53" height="6.1" fill="#d7191c"/>
<rect x="602.99" y="352.86" width="4.53" height="6.1" fill="#abd9e9"/>
<rect x="191.54" y="361.11" width="4.53" height="6.1" fill="#d7191c"/>
<rect x="602.99" y="361.11" width="4.53" height="6.1" fill="#abd9e9"/>
<rect x="650.63" y="361.11" width="4.53" height="6.1" fill="#fdae61"/>
<rect x="191.54" y="369.37" width="4.53" height="6.1" fill="#d7191c"/>
<rect x="602.99" y="369.37" width="4.53" height="6.1" fill="#abd9e9"/>
<rect x="191.54" y="377.63" width="4.53" height="6.1" fill="#d7191c"/>
<rect x="568.34" y="377.63" width="4.53" height="6.1" fill="#d7191c"/>
<rect x="602.99" y="377.63" width="4.53" height="6.1" fill="#abd9e9"/>
<rect x="191.54" y="385.88" width="4.53" height="6.1" fill="#d7191c"/>
<rect x="412.42" y="385.88" width="4.53" height="6.1" fill="#abd9e9"/>
<rect x="191.54" y="394.14" width="4.53" height="6.1" fill="#d7191c"/>
<rect x="317.14" y="394.14" width="4.53" height="6.1" fill="#2c7bb6"/>
<rect x="624.64" y="394.14" width="4.53" height="6.1" fill="#fdae61"/>
<rect x="628.97" y="394.14" width="4.53" height="6.1" fill="#d7191c"/>
<rect x="191.54" y="402.4" width="4.53" height="6.1" fill="#d7191c"/>
<rect x="299.82" y="402.4" width="4.53" height="6.1" fill="#fdae61"/>
<rect x="538.02" y="402.4" width="4.53" height="6.1" fill="#d7191c"/>
<rect x="191.54" y="410.65" width="4.53" height="6.1" fill="#d7191c"/>
<rect x="594.33" y="410.65" width="4.53" height="6.1" fill="#2c7bb6"/>
<rect x="602.99" y="410.65" width="4.53" height="6.1" fill="#abd9e9"/>
<rect x="191.54" y="418.91" width="4.53" height="6.1" fill="#d7191c"/>
<rect x="602.99" y="418.91" width="4.53" height="6.1" fill="#abd9e9"/>
<rect x="191.54" y="427.17" width="4.53" height="6.1" fill="#d7191c"/>
<rect x="602.99" y="427.17" width="4.53" height="6.1" fill="#abd9e9"/>
<rect x="100.59" y="435.43" width="4.53" height="6.1" fill="#d7191c"/>
<rect x="191.54" y="435.43" width="4.53" height="6.1" fill="#d7191c"/>
<rect x="525.03" y="435.43" width="4.53" height="6.1" fill="#abd9e9"/>
<rect x="191.54" y="443.68" width="4.53" height="6.1" fill="#d7191c"/>
<rect x="434.08" y="443.68" width="4.53" height="6.1" fill="#d7191c"/>
<rect x="191.54" y="451.94" width="4.53" height="6.1" fill="#d7191c"/>
<rect x="434.08" y="451.94" width="4.53" height="6.1" fill="#d7191c"/>
<rect x="91.93" y="460.2" width="4.53" height="6.1" fill="#2c7bb6"/>
<rect x="139.57" y="460.2" width="4.53" height="6.1" fill="#2c7bb6"/>
<rect x="191.54" y="460.2" width="4.53" height="6.1" fill="#d7191c"/>
<rect x="641.97" y="460.2" width="4.53" height="6.1" fill="#abd9e9"/>
<circle cx="92.6" cy="257.1" r="0.6" fill="#bdbdbd"/>
<circle cx="330.6" cy="289.4" r="0.55" fill="#777"/>
</g>
<rect x="92.8" y="475.7" width="2.8" height="26" fill="#d7191c"/>
<rect x="97.13" y="475.7" width="2.8" height="26" fill="#2c7bb6"/>
<rect x="101.46" y="475.7" width="2.8" height="26" fill="#abd9e9"/>
<rect x="105.79" y="475.7" width="2.8" height="26" fill="#fdae61"/>
<rect x="110.12" y="475.7" width="2.8" height="26" fill="#abd9e9"/>
<rect x="114.45" y="475.7" width="2.8" height="26" fill="#2c7bb6"/>
<rect x="118.78" y="475.7" width="2.8" height="26" fill="#abd9e9"/>
<rect x="123.11" y="475.7" width="2.8" height="26" fill="#fdae61"/>
<rect x="127.44" y="475.7" width="2.8" height="26" fill="#d7191c"/>
<rect x="131.77" y="475.7" width="2.8" height="26" fill="#2c7bb6"/>
<rect x="136.11" y="475.7" width="2.8" height="26" fill="#2c7bb6"/>
<rect x="140.44" y="475.7" width="2.8" height="26" fill="#d7191c"/>
<rect x="144.77" y="475.7" width="2.8" height="26" fill="#d7191c"/>
<rect x="149.1" y="475.7" width="2.8" height="26" fill="#2c7bb6"/>
<rect x="153.43" y="475.7" width="2.8" height="26" fill="#fdae61"/>
<rect x="157.76" y="475.7" width="2.8" height="26" fill="#d7191c"/>
<rect x="162.09" y="475.7" width="2.8" height="26" fill="#2c7bb6"/>
<rect x="166.42" y="475.7" width="2.8" height="26" fill="#abd9e9"/>
<rect x="170.75" y="475.7" width="2.8" height="26" fill="#fdae61"/>
<rect x="175.08" y="475.7" width="2.8" height="26" fill="#2c7bb6"/>
<rect x="179.42" y="475.7" width="2.8" height="26" fill="#abd9e9"/>
<rect x="183.75" y="475.7" width="2.8" height="26" fill="#abd9e9"/>
<rect x="188.08" y="475.7" width="2.8" height="26" fill="#d7191c"/>
<rect x="192.41" y="475.7" width="2.8" height="26" fill="#abd9e9"/>
<rect x="196.74" y="475.7" width="2.8" height="26" fill="#fdae61"/>
<rect x="201.07" y="475.7" width="2.8" height="26" fill="#2c7bb6"/>
<rect x="205.4" y="475.7" width="2.8" height="26" fill="#abd9e9"/>
<rect x="209.73" y="475.7" width="2.8" height="26" fill="#abd9e9"/>
<rect x="214.06" y="475.7" width="2.8" height="26" fill="#2c7bb6"/>
<rect x="218.39" y="475.7" width="2.8" height="26" fill="#2c7bb6"/>
<rect x="222.73" y="475.7" width="2.8" height="26" fill="#2c7bb6"/>
<rect x="227.06" y="475.7" width="2.8" height="26" fill="#abd9e9"/>
<rect x="231.39" y="475.7" width="2.8" height="26" fill="#d7191c"/>
<rect x="235.72" y="475.7" width="2.8" height="26" fill="#abd9e9"/>
<rect x="240.05" y="475.7" width="2.8" height="26" fill="#fdae61"/>
<rect x="244.38" y="475.7" width="2.8" height="26" fill="#2c7bb6"/>
<rect x="248.71" y="475.7" width="2.8" height="26" fill="#abd9e9"/>
<rect x="253.04" y="475.7" width="2.8" height="26" fill="#abd9e9"/>
<rect x="257.37" y="475.7" width="2.8" height="26" fill="#2c7bb6"/>
<rect x="261.7" y="475.7" width="2.8" height="26" fill="#d7191c"/>
<rect x="266.04" y="475.7" width="2.8" height="26" fill="#d7191c"/>
<rect x="270.37" y="475.7" width="2.8" height="26" fill="#abd9e9"/>
<rect x="274.7" y="475.7" width="2.8" height="26" fill="#abd9e9"/>
<rect x="279.03" y="475.7" width="2.8" height="26" fill="#abd9e9"/>
<rect x="283.36" y="475.7" width="2.8" height="26" fill="#fdae61"/>
<rect x="287.69" y="475.7" width="2.8" height="26" fill="#d7191c"/>
<rect x="292.02" y="475.7" width="2.8" height="26" fill="#fdae61"/>
<rect x="296.35" y="475.7" width="2.8" height="26" fill="#2c7bb6"/>
<rect x="300.68" y="475.7" width="2.8" height="26" fill="#abd9e9"/>
<rect x="305.01" y="475.7" width="2.8" height="26" fill="#fdae61"/>
<rect x="309.35" y="475.7" width="2.8" height="26" fill="#2c7bb6"/>
<rect x="313.68" y="475.7" width="2.8" height="26" fill="#abd9e9"/>
<rect x="318.01" y="475.7" width="2.8" height="26" fill="#d7191c"/>
<rect x="322.34" y="475.7" width="2.8" height="26" fill="#d7191c"/>
<rect x="326.67" y="475.7" width="2.8" height="26" fill="#fdae61"/>
<rect x="331" y="475.7" width="2.8" height="26" fill="#2c7bb6"/>
<rect x="335.33" y="475.7" width="2.8" height="26" fill="#2c7bb6"/>
<rect x="339.66" y="475.7" width="2.8" height="26" fill="#2c7bb6"/>
<rect x="343.99" y="475.7" width="2.8" height="26" fill="#2c7bb6"/>
<rect x="348.32" y="475.7" width="2.8" height="26" fill="#fdae61"/>
<rect x="352.66" y="475.7" width="2.8" height="26" fill="#d7191c"/>
<rect x="356.99" y="475.7" width="2.8" height="26" fill="#fdae61"/>
<rect x="361.32" y="475.7" width="2.8" height="26" fill="#2c7bb6"/>
<rect x="365.65" y="475.7" width="2.8" height="26" fill="#2c7bb6"/>
<rect x="369.98" y="475.7" width="2.8" height="26" fill="#2c7bb6"/>
<rect x="374.31" y="475.7" width="2.8" height="26" fill="#d7191c"/>
<rect x="378.64" y="475.7" width="2.8" height="26" fill="#fdae61"/>
<rect x="382.97" y="475.7" width="2.8" height="26" fill="#2c7bb6"/>
<rect x="387.3" y="475.7" width="2.8" height="26" fill="#abd9e9"/>
<rect x="391.63" y="475.7" width="2.8" height="26" fill="#fdae61"/>
<rect x="395.97" y="475.7" width="2.8" height="26" fill="#d7191c"/>
<rect x="400.3" y="475.7" width="2.8" height="26" fill="#abd9e9"/>
<rect x="404.63" y="475.7" width="2.8" height="26" fill="#d7191c"/>
<rect x="408.96" y="475.7" width="2.8" height="26" fill="#fdae61"/>
<rect x="413.29" y="475.7" width="2.8" height="26" fill="#fdae61"/>
<rect x="417.62" y="475.7" width="2.8" height="26" fill="#d7191c"/>
<rect x="421.95" y="475.7" width="2.8" height="26" fill="#fdae61"/>
<rect x="426.28" y="475.7" width="2.8" height="26" fill="#2c7bb6"/>
<rect x="430.61" y="475.7" width="2.8" height="26" fill="#2c7bb6"/>
<rect x="434.94" y="475.7" width="2.8" height="26" fill="#2c7bb6"/>
<rect x="439.28" y="475.7" width="2.8" height="26" fill="#d7191c"/>
<rect x="443.61" y="475.7" width="2.8" height="26" fill="#d7191c"/>
<rect x="447.94" y="475.7" width="2.8" height="26" fill="#abd9e9"/>
<rect x="452.27" y="475.7" width="2.8" height="26" fill="#d7191c"/>
<rect x="456.6" y="475.7" width="2.8" height="26" fill="#abd9e9"/>
<rect x="460.93" y="475.7" width="2.8" height="26" fill="#2c7bb6"/>
<rect x="465.26" y="475.7" width="2.8" height="26" fill="#d7191c"/>
<rect x="469.59" y="475.7" width="2.8" height="26" fill="#2c7bb6"/>
<rect x="473.92" y="475.7" width="2.8" height="26" fill="#2c7bb6"/>
<rect x="478.25" y="475.7" width="2.8" height="26" fill="#2c7bb6"/>
<rect x="482.59" y="475.7" width="2.8" height="26" fill="#fdae61"/>
<rect x="486.92" y="475.7" width="2.8" height="26" fill="#d7191c"/>
<rect x="491.25" y="475.7" width="2.8" height="26" fill="#abd9e9"/>
<rect x="495.58" y="475.7" width="2.8" height="26" fill="#2c7bb6"/>
<rect x="499.91" y="475.7" width="2.8" height="26" fill="#abd9e9"/>
<rect x="504.24" y="475.7" width="2.8" height="26" fill="#fdae61"/>
<rect x="508.57" y="475.7" width="2.8" height="26" fill="#abd9e9"/>
<rect x="512.9" y="475.7" width="2.8" height="26" fill="#d7191c"/>
<rect x="517.23" y="475.7" width="2.8" height="26" fill="#2c7bb6"/>
<rect x="521.56" y="475.7" width="2.8" height="26" fill="#2c7bb6"/>
<rect x="525.9" y="475.7" width="2.8" height="26" fill="#fdae61"/>
<rect x="530.23" y="475.7" width="2.8" height="26" fill="#fdae61"/>
<rect x="534.56" y="475.7" width="2.8" height="26" fill="#2c7bb6"/>
<rect x="538.89" y="475.7" width="2.8" height="26" fill="#abd9e9"/>
<rect x="543.22" y="475.7" width="2.8" height="26" fill="#abd9e9"/>
<rect x="547.55" y="475.7" width="2.8" height="26" fill="#d7191c"/>
<rect x="551.88" y="475.7" width="2.8" height="26" fill="#abd9e9"/>
<rect x="556.21" y="475.7" width="2.8" height="26" fill="#d7191c"/>
<rect x="560.54" y="475.7" width="2.8" height="26" fill="#d7191c"/>
<rect x="564.87" y="475.7" width="2.8" height="26" fill="#abd9e9"/>
<rect x="569.21" y="475.7" width="2.8" height="26" fill="#2c7bb6"/>
<rect x="573.54" y="475.7" width="2.8" height="26" fill="#2c7bb6"/>
<rect x="577.87" y="475.7" width="2.8" height="26" fill="#d7191c"/>
<rect x="582.2" y="475.7" width="2.8" height="26" fill="#fdae61"/>
<rect x="586.53" y="475.7" width="2.8" height="26" fill="#fdae61"/>
<rect x="590.86" y="475.7" width="2.8" height="26" fill="#fdae61"/>
<rect x="595.19" y="475.7" width="2.8" height="26" fill="#fdae61"/>
<rect x="599.52" y="475.7" width="2.8" height="26" fill="#fdae61"/>
<rect x="603.85" y="475.7" width="2.8" height="26" fill="#2c7bb6"/>
<rect x="608.18" y="475.7" width="2.8" height="26" fill="#fdae61"/>
<rect x="612.52" y="475.7" width="2.8" height="26" fill="#fdae61"/>
<rect x="616.85" y="475.7" width="2.8" height="26" fill="#fdae61"/>
<rect x="621.18" y="475.7" width="2.8" height="26" fill="#fdae61"/>
<rect x="625.51" y="475.7" width="2.8" height="26" fill="#abd9e9"/>
<rect x="629.84" y="475.7" width="2.8" height="26" fill="#2c7bb6"/>
<rect x="634.17" y="475.7" width="2.8" height="26" fill="#2c7bb6"/>
<rect x="638.5" y="475.7" width="2.8" height="26" fill="#abd9e9"/>
<rect x="642.83" y="475.7" width="2.8" height="26" fill="#fdae61"/>
<rect x="647.16" y="475.7" width="2.8" height="26" fill="#2c7bb6"/>
<rect x="651.49" y="475.7" width="2.8" height="26" fill="#abd9e9"/>
<path d="M92.03,576.8 L92.03,507.4 L96.36,507.4 L96.36,507.4 L100.69,507.4 L100.69,506.8 L105.02,506.8 L105.02,507.4 L109.35,507.4 L109.35,507.4 L113.69,507.4 L113.69,507.4 L118.02,507.4 L118.02,506.8 L122.35,506.8 L122.35,507.4 L126.68,507.4 L126.68,507.4 L131.01,507.4 L131.01,507.4 L135.34,507.4 L135.34,507.4 L139.67,507.4 L139.67,507.4 L144,507.4 L144,507.4 L148.33,507.4 L148.33,507.4 L152.66,507.4 L152.66,507.4 L157,507.4 L157,507.4 L161.33,507.4 L161.33,507.4 L165.66,507.4 L165.66,508.8 L169.99,508.8 L169.99,510.3 L174.32,510.3 L174.32,510.3 L178.65,510.3 L178.65,516.6 L182.98,516.6 L182.98,547.3 L187.31,547.3 L187.31,557.4 L191.64,557.4 L191.64,557.4 L195.97,557.4 L195.97,556.4 L200.31,556.4 L200.31,556.4 L204.64,556.4 L204.64,558.2 L208.97,558.2 L208.97,570.7 L213.3,570.7 L213.3,576.2 L217.63,576.2 L217.63,576.2 L221.96,576.2 L221.96,576.2 L226.29,576.2 L226.29,575.3 L230.62,575.3 L230.62,572.5 L234.95,572.5 L234.95,561.2 L239.28,561.2 L239.28,523.1 L243.62,523.1 L243.62,520.1 L247.95,520.1 L247.95,512.9 L252.28,512.9 L252.28,508.8 L256.61,508.8 L256.61,507.7 L260.94,507.7 L260.94,507.4 L265.27,507.4 L265.27,507.4 L269.6,507.4 L269.6,507.4 L273.93,507.4 L273.93,507.4 L278.26,507.4 L278.26,507.4 L282.59,507.4 L282.59,507.4 L286.93,507.4 L286.93,507.4 L291.26,507.4 L291.26,507.4 L295.59,507.4 L295.59,507.4 L299.92,507.4 L299.92,507.4 L304.25,507.4 L304.25,507.4 L308.58,507.4 L308.58,507.4 L312.91,507.4 L312.91,507.4 L317.24,507.4 L317.24,507.4 L321.57,507.4 L321.57,507.4 L325.9,507.4 L325.9,507.4 L330.24,507.4 L330.24,507.4 L334.57,507.4 L334.57,507.4 L338.9,507.4 L338.9,507.4 L343.23,507.4 L343.23,507.4 L347.56,507.4 L347.56,507.4 L351.89,507.4 L351.89,507.4 L356.22,507.4 L356.22,507.4 L360.55,507.4 L360.55,507.4 L364.88,507.4 L364.88,507.4 L369.21,507.4 L369.21,507.4 L373.55,507.4 L373.55,507.4 L377.88,507.4 L377.88,507.4 L382.21,507.4 L382.21,507.4 L386.54,507.4 L386.54,507.4 L390.87,507.4 L390.87,507.4 L395.2,507.4 L395.2,507.4 L399.53,507.4 L399.53,507.4 L403.86,507.4 L403.86,507.4 L408.19,507.4 L408.19,507.4 L412.52,507.4 L412.52,507.4 L416.86,507.4 L416.86,507.4 L421.19,507.4 L421.19,507.4 L425.52,507.4 L425.52,507.4 L429.85,507.4 L429.85,507.4 L434.18,507.4 L434.18,507.4 L438.51,507.4 L438.51,507.4 L442.84,507.4 L442.84,507.4 L447.17,507.4 L447.17,508 L451.5,508 L451.5,508.3 L455.83,508.3 L455.83,508.3 L460.17,508.3 L460.17,508.4 L464.5,508.4 L464.5,508.6 L468.83,508.6 L468.83,510.3 L473.16,510.3 L473.16,518.2 L477.49,518.2 L477.49,532.2 L481.82,532.2 L481.82,537.5 L486.15,537.5 L486.15,541.3 L490.48,541.3 L490.48,542.8 L494.81,542.8 L494.81,538.3 L499.14,538.3 L499.14,536.4 L503.48,536.4 L503.48,539.3 L507.81,539.3 L507.81,550 L512.14,550 L512.14,567.3 L516.47,567.3 L516.47,570 L520.8,570 L520.8,574.2 L525.13,574.2 L525.13,575.6 L529.46,575.6 L529.46,576.3 L533.79,576.3 L533.79,575.5 L538.12,575.5 L538.12,574.8 L542.45,574.8 L542.45,574.8 L546.79,574.8 L546.79,575.9 L551.12,575.9 L551.12,575.9 L555.45,575.9 L555.45,575.9 L559.78,575.9 L559.78,575.9 L564.11,575.9 L564.11,574.7 L568.44,574.7 L568.44,574.7 L572.77,574.7 L572.77,574.7 L577.1,574.7 L577.1,575.9 L581.43,575.9 L581.43,575.9 L585.76,575.9 L585.76,575.9 L590.1,575.9 L590.1,575.9 L594.43,575.9 L594.43,575.3 L598.76,575.3 L598.76,575.3 L603.09,575.3 L603.09,575.9 L607.42,575.9 L607.42,575.9 L611.75,575.9 L611.75,575.9 L616.08,575.9 L616.08,575.9 L620.41,575.9 L620.41,575 L624.74,575 L624.74,575 L629.07,575 L629.07,575.9 L633.4,575.9 L633.4,575.9 L637.74,575.9 L637.74,575.9 L642.07,575.9 L642.07,575.9 L646.4,575.9 L646.4,575.9 L650.73,575.9 L650.73,575.9 L655.06,575.9 L655.06,576.8 Z" fill="#a9a9a9"/>
</svg>
</body></html>
